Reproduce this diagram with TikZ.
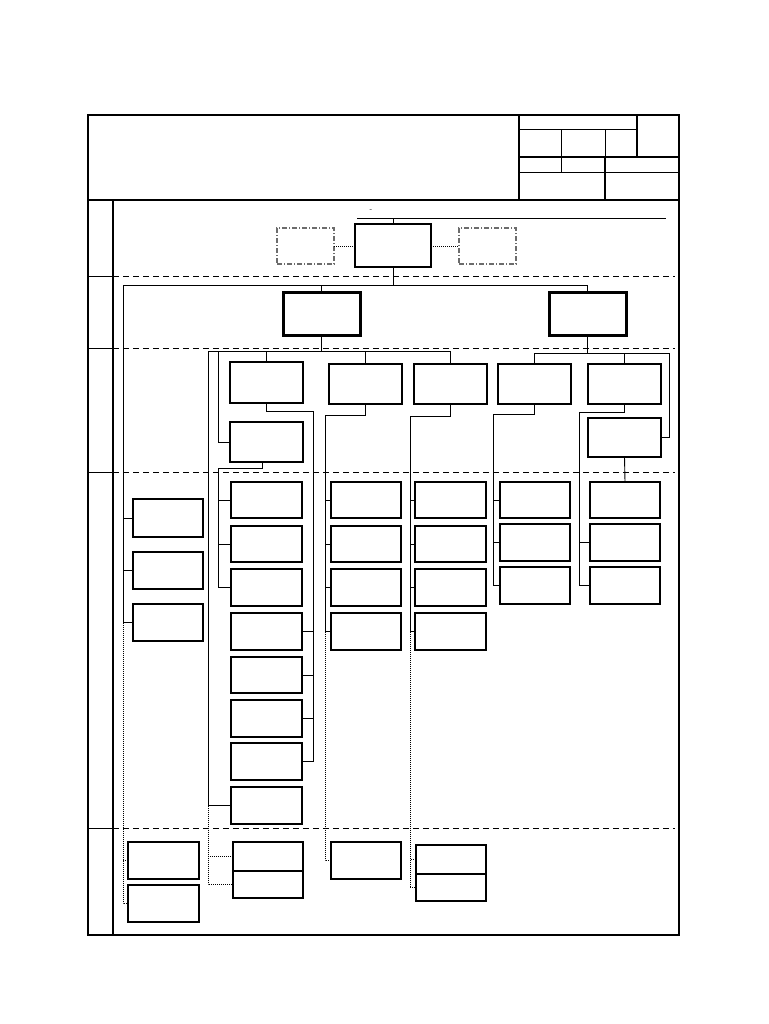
\documentclass[tikz,border=0pt]{standalone}
\begin{document}
\begin{tikzpicture}[x=1pt,y=-1pt,
  bx/.style={draw,line width=2.3pt,inner sep=0pt,outer sep=0pt,fill=white},
  bxh/.style={bx,line width=3pt},
  dbx/.style={draw=gray!85!black,line width=1.2pt,inner sep=0pt,outer sep=0pt,dash pattern=on 5pt off 2pt on 1pt off 2pt},
  con/.style={line width=0.9pt},
  dcon/.style={line width=0.9pt,dash pattern=on 1pt off 1pt},
  frm/.style={line width=2pt},
  thn/.style={line width=1pt},
  sep/.style={line width=0.9pt,dash pattern=on 6pt off 4pt}]
\newcommand\B[6]{\node[#1,minimum width={#4-#2},minimum height={#5-#3}] (#6) at ({(#2+#4)/2},{(#3+#5)/2}) {};}
\useasboundingbox (0,0) rectangle (768,1024);
% frame
\draw[frm] (88,115) rectangle (679,935);
\draw[frm] (88,200) -- (679,200);
\draw[frm] (113,200) -- (113,935);
\draw[frm] (519,115) -- (519,200);
\draw[frm] (519,157) -- (679,157);
\draw[line width=1.5pt] (637,115) -- (637,157);
\draw[line width=1.5pt] (605,157) -- (605,200);
\draw[thn] (519,130) -- (637,130);
\draw[thn] (561,130) -- (561,157);
\draw[thn] (605,130) -- (605,157);
\draw[thn] (561,157) -- (561,173);
\draw[thn] (519,173) -- (679,173);
% row separators
\foreach \yy in {276,348,472,828}{
  \draw[thn] (88,\yy) -- (113,\yy);
  \draw[sep] (113,\yy) -- (675,\yy);
}
% nodes
\B{bx}{355}{224}{431}{267}{top}
\B{dbx}{277}{228}{334}{264}{dl}
\B{dbx}{459}{228}{516}{264}{dr}
\B{bxh}{283}{292}{360}{335}{A}
\B{bxh}{549}{292}{626}{335}{Bb}
\B{bx}{230}{362}{303}{403}{ra}
\B{bx}{230}{422}{303}{462}{raa}
\B{bx}{329}{364}{402}{404}{rb}
\B{bx}{414}{364}{487}{404}{rc}
\B{bx}{498}{364}{571}{404}{rd}
\B{bx}{588}{364}{661}{404}{re}
\B{bx}{588}{418}{661}{457}{ree}
\B{bx}{133}{499}{203}{537}{La}
\B{bx}{133}{552}{203}{589}{Lb}
\B{bx}{133}{604}{203}{641}{Lc}
\B{bx}{231}{482}{302}{518}{ca}
\B{bx}{231}{526}{302}{562}{cb}
\B{bx}{231}{569}{302}{606}{cc}
\B{bx}{231}{613}{302}{650}{cd}
\B{bx}{231}{657}{302}{693}{ce}
\B{bx}{231}{700}{302}{737}{cf}
\B{bx}{231}{743}{302}{780}{cg}
\B{bx}{231}{787}{302}{824}{ch}
\B{bx}{331}{482}{401}{518}{da}
\B{bx}{331}{526}{401}{562}{db}
\B{bx}{331}{569}{401}{606}{dc}
\B{bx}{331}{613}{401}{650}{dd}
\B{bx}{415}{482}{486}{518}{ea}
\B{bx}{415}{526}{486}{562}{eb}
\B{bx}{415}{569}{486}{606}{ec}
\B{bx}{415}{613}{486}{650}{ed}
\B{bx}{500}{482}{570}{518}{fa}
\B{bx}{500}{524}{570}{561}{fb}
\B{bx}{500}{567}{570}{604}{fc}
\B{bx}{590}{482}{660}{518}{ga}
\B{bx}{590}{524}{660}{561}{gb}
\B{bx}{590}{567}{660}{604}{gc}
\B{bx}{128}{842}{199}{879}{BLa}
\B{bx}{128}{885}{199}{922}{BLb}
\B{bx}{233}{842}{303}{871}{BAa}
\B{bx}{233}{871}{303}{898}{BAb}
\B{bx}{331}{842}{401}{879}{BB}
\B{bx}{416}{845}{486}{874}{BCa}
\B{bx}{416}{874}{486}{901}{BCb}
% top line
\coordinate (tl) at (357,218);
\coordinate (tr) at (666,218);
\draw[con] (tl) -- (tr);
\draw[con] (top.north) -- (top.north |- tl);
\node[font=\scriptsize,inner sep=0pt] (dash) at (371,211) {-};
\draw[dcon] (dl.east) -- (top.west |- dl.east);
\draw[dcon] (top.east |- dr.west) -- (dr.west);
% level 2
\coordinate (b1) at (123,285);
\draw[con] (top.south) -- (top.south |- b1);
\draw[con] (b1) -- (Bb.north |- b1) -- (Bb.north);
\draw[con] (A.north) -- (A.north |- b1);
\draw[con] (b1) |- (Lc.west);
\draw[con] (La.west) -- (La.west -| b1);
\draw[con] (Lb.west) -- (Lb.west -| b1);
\draw[dcon] (Lc.west -| b1) |- (BLb.west);
\draw[dcon] (BLa.west) -- (BLa.west -| b1);
% level 3 left
\coordinate (b2) at (208,351);
\coordinate (b3) at (218,351);
\draw[con] (A.south) -- (A.south |- b2);
\draw[con] (b2) -- (rc.north |- b2) -- (rc.north);
\draw[con] (ra.north) -- (ra.north |- b2);
\draw[con] (rb.north) -- (rb.north |- b2);
\draw[con] (b2) |- (ch.west);
\draw[dcon] (ch.west -| b2) |- (BAb.west);
\draw[dcon] (BAa.west) -- (BAa.west -| b2);
\draw[con] (b3) |- (raa.west);
\coordinate (k1) at (218,468);
\draw[con] ([xshift=-4pt]raa.south) |- (k1) |- (cc.west);
\draw[con] (ca.west) -- (ca.west -| k1);
\draw[con] (cb.west) -- (cb.west -| k1);
\coordinate (k2) at (313,411);
\draw[con] (ra.south) |- (k2) |- (cg.east);
\draw[con] (cd.east) -- (cd.east -| k2);
\draw[con] (ce.east) -- (ce.east -| k2);
\draw[con] (cf.east) -- (cf.east -| k2);
\coordinate (k3) at (325,415);
\draw[con] (rb.south) |- (k3) |- (dd.west);
\draw[con] (da.west) -- (da.west -| k3);
\draw[con] (db.west) -- (db.west -| k3);
\draw[con] (dc.west) -- (dc.west -| k3);
\draw[dcon] (dd.west -| k3) |- (BB.west);
\coordinate (k4) at (410,416);
\draw[con] (rc.south) |- (k4) |- (ed.west);
\draw[con] (ea.west) -- (ea.west -| k4);
\draw[con] (eb.west) -- (eb.west -| k4);
\draw[con] (ec.west) -- (ec.west -| k4);
\draw[dcon] (ed.west -| k4) |- (BCb.west);
\draw[dcon] (BCa.west) -- (BCa.west -| k4);
% level 3 right
\coordinate (b4) at (535,353);
\coordinate (k5) at (669,353);
\draw[con] (Bb.south) -- (Bb.south |- b4);
\draw[con] (rd.north) |- (k5) |- (ree.east);
\draw[con] (re.north) -- (re.north |- b4);
\coordinate (k6) at (493,414);
\draw[con] (rd.south) |- (k6) |- (fc.west);
\draw[con] (fa.west) -- (fa.west -| k6);
\draw[con] (fb.west) -- (fb.west -| k6);
\coordinate (k7) at (579,412);
\draw[con] (re.south) |- (k7) |- (gc.west);
\draw[con] (gb.west) -- (gb.west -| k7);
\draw[con] (ree.south) -- (ga.north);
\end{tikzpicture}
\end{document}
